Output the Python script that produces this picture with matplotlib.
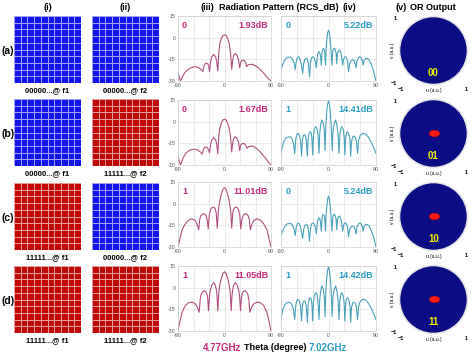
import matplotlib.pyplot as plt
import numpy as np
from matplotlib.colors import ListedColormap
from matplotlib.patches import Ellipse

plt.rcParams['font.family'] = ['Liberation Sans', 'DejaVu Sans']

# ---- data ----
row_labels = ['(a)', '(b)', '(c)', '(d)']
state_f1 = [0, 0, 1, 1]
state_f2 = [0, 1, 0, 1]
code_f1 = ['00000...@ f1', '00000...@ f1', '11111...@ f1', '11111...@ f1']
code_f2 = ['00000...@ f2', '11111...@ f2', '00000...@ f2', '11111...@ f2']
gain_f1 = ['1.93dB', '1.67dB', '11.01dB', '11.05dB']
gain_f2 = ['5.22dB', '14.41dB', '5.24dB', '14.42dB']
or_out = ['00', '01', '10', '11']

# radiation patterns at 4.77GHz (theta deg, RCS dB)
th_a3 = [-90, -87, -85, -80, -74, -66, -58, -52, -47, -42, -40, -38, -35, -32, -30.5, -29, -27, -25, -21, -17,
         -15, -13, -11, -9, -6, -3, 0, 3, 6, 9, 11.5, 14, 16, 18, 21, 24, 27, 29.5, 31, 33, 36, 39, 41, 43,
         45, 49, 54, 60, 66, 72, 78, 84, 90]
db_a3 = [-24, -28, -30, -26, -23, -21, -20, -20.5, -21.5, -23.5, -20, -18.3, -17.5, -18.3, -20, -23.5, -17,
         -13.5, -11.5, -13.5, -17, -23, -10, -4, -0.5, 1.5, 2, 1.5, -0.5, -4, -10, -22, -15, -12, -11, -12,
         -15, -21, -17.5, -16, -15.5, -16, -17.5, -20, -19, -18.5, -18.5, -19.5, -21, -23, -25.5, -28, -30]
th_b3 = [-90, -87, -85, -80, -74, -66, -58, -52, -47, -43, -41, -39, -36, -33, -31, -29, -27, -25, -21, -17,
         -15, -13, -11, -9, -6, -3, 0, 3, 6, 9, 11.5, 14, 16, 18, 21, 24, 27, 29.5, 31, 33, 36, 39, 41, 43.5,
         46, 50, 56, 62, 68, 74, 80, 85, 90]
db_b3 = [-24, -28, -30, -25, -21.5, -19.5, -19, -19.5, -21, -22.5, -19.5, -18, -17.5, -18, -19.5, -21.5, -16,
         -13, -11, -12.5, -16, -22, -10, -4.5, -1, 1.2, 1.7, 1.2, -1, -4.5, -10, -21, -14, -11.5, -10.5,
         -11.5, -14, -20, -16.5, -15.5, -15, -15.5, -16.5, -18.5, -17.5, -17, -17, -18.5, -20.5, -23, -25.5,
         -28, -30]
th_c3 = [-90, -86, -82, -76, -70, -63, -57, -54, -51.5, -50, -48, -46, -43, -40, -37, -34.5, -33, -31.5, -29.5,
         -27, -24, -21, -18, -16, -14, -12, -10, -7, -4, -2, 0, 2, 4, 7, 10, 12, 14, 16, 18, 21, 24, 27, 29.5,
         31.5, 33, 34.5, 37, 40, 43, 46, 48, 50, 51.5, 54, 57, 63, 70, 76, 82, 86, 90]
db_c3 = [-30, -24, -18, -14, -11.5, -10.5, -11.5, -13.5, -16, -18, -11, -8.5, -7.2, -7, -7.5, -9.5, -12.5,
         -17.5, -8, -4, -2.6, -2.3, -3.5, -6.5, -17, -5, 0, 5.5, 9, 10.5, 11, 10.5, 9, 5.5, 0, -5, -17, -6.5,
         -3.5, -2.3, -2.6, -4, -8, -17.5, -12.5, -9.5, -7.5, -7, -7.2, -8.5, -11, -18, -16, -13.5, -11.5,
         -10.5, -11.5, -14, -18, -24, -30]
th_d3 = [-90, -86, -82, -76, -70, -63, -57, -54, -51, -49, -47, -45, -42, -39, -36, -34, -32.5, -31, -29, -27,
         -24, -21, -18, -16, -14.5, -13, -11, -9, -6, -3, 0, 3, 6, 9, 11, 13, 14.5, 16, 18, 21, 24, 27, 29,
         31, 32.5, 34, 36, 39, 42, 45, 47, 49, 51, 54, 57, 63, 70, 76, 82, 86, 90]
db_d3 = [-30, -23, -17, -12.5, -10.5, -10, -11, -12.5, -15, -17, -8, -4.5, -2.8, -2, -2.8, -4.5, -7.5, -16,
         -5, -1, 2, 3.5, 2, -1, -5.5, -16, -3, 2, 6.5, 9.8, 11, 9.8, 6.5, 2, -3, -16, -5.5, -1, 2, 3.5, 2,
         -1, -5, -16, -7.5, -4.5, -2.8, -2, -2.8, -4.5, -8, -17, -15, -12.5, -11, -10, -10.5, -12.5, -17,
         -23, -30]

# radiation patterns at 7.02GHz
th_a4 = [-90, -84, -78, -72, -68, -65, -63, -61, -59, -57, -55, -53, -51, -49, -47, -45, -42, -40, -38, -36,
         -34, -32, -29.5, -27, -25, -23, -21.5, -20, -18, -16.5, -15, -13.7, -12.5, -11, -9.5, -8, -7, -5.6,
         -4.5, -3, -1.5, 0, 1.5, 3, 4.5, 6.5, 8, 9.5, 11.3, 13, 14.5, 15.6, 17, 18.8, 20.6, 22.5, 24.5, 26.9,
         28.5, 30.5, 32, 34, 36, 38, 40, 43, 45.6, 48.5, 50.5, 52, 54, 57, 59.4, 62, 64, 65.6, 67.5, 70.5,
         73.7, 77, 81, 85, 90]
db_a4 = [-22, -16, -13.5, -13.5, -15, -18, -22, -16, -13.8, -13.2, -13.8, -16, -20, -24.7, -18, -15, -14.3,
         -15, -18, -27, -17, -14, -13.2, -14, -16.5, -21, -14, -11, -9.7, -10.5, -13, -19, -11, -8, -7.4,
         -8.5, -11, -19, -7, -1, 3.5, 5.2, 3.5, -1, -7, -19, -10, -7.8, -7.4, -8.5, -11, -18, -11, -9, -8.5,
         -9.5, -12, -19, -15, -13.5, -13.2, -14, -16.5, -23.5, -18, -16, -15.5, -16, -18, -21, -16, -13.8,
         -13.2, -14, -16, -19, -15.5, -14.3, -14.3, -15.5, -18.5, -22.5, -30]
th_b4 = [-90, -86, -81, -76, -72, -69, -66.5, -64, -62, -60, -58, -55.5, -53, -51, -49.5, -48, -46, -44, -42,
         -40, -38.5, -37, -35, -33, -31.5, -30, -28.5, -27, -24.5, -22, -20, -18, -16.5, -15, -12.5, -10, -8,
         -6.5, -5, -3.5, -2, 0, 2, 3.5, 5, 7, 8.5, 11, 13.5, 16, 18, 20, 21.5, 23.5, 25.5, 28, 29.5, 31, 32.5,
         34.5, 36.5, 38.5, 40.5, 42, 43.5, 46, 48.5, 51, 53, 55, 57, 60, 65, 70, 75, 80, 85, 90]
db_b4 = [-22, -15, -11.5, -10.5, -10.5, -12, -15, -22, -12, -9, -8, -9, -13, -24, -13, -10, -9, -9.5, -13,
         -24, -12, -8.5, -7, -7.5, -11, -23, -10, -5.5, -3.5, -4.5, -9, -22, -8, -2.5, 1.2, -1, -6, -20, -2,
         6, 11.5, 14.4, 11.5, 6, -2, -20, -6, -1, 1.2, -2.5, -8, -22, -9, -4.5, -3.5, -5.5, -10, -23, -11,
         -7.5, -7, -8.5, -12, -24, -14, -10.5, -10, -11, -14, -22, -13, -9.5, -8, -8.5, -10.5, -13.5, -17.5,
         -22]
th_c4 = th_a4
db_c4 = [-22, -16.5, -14, -13.5, -15, -18, -22, -16, -14, -13.4, -14, -16, -20, -24, -18, -15, -14.5,
         -15, -18, -26, -17, -14, -13.4, -14, -16.5, -21, -14, -11, -9.8, -10.5, -13, -19, -11, -8, -7.4,
         -8.5, -11, -19, -7, -1, 3.5, 5.2, 3.5, -1, -7, -19, -10, -7.8, -7.4, -8.5, -11, -18, -11, -9, -8.6,
         -9.5, -12, -19, -15, -13.5, -13.3, -14, -16.5, -23, -18, -16, -15.5, -16, -18, -21, -16, -14,
         -13.3, -14, -16, -19, -15.5, -14.3, -14.5, -15.5, -18.5, -22.5, -30]
th_d4 = th_b4
db_d4 = [-21, -14.5, -11, -10, -10.5, -12, -15, -22, -12, -9, -8, -9, -13, -23, -13, -10, -9, -9.5, -13,
         -24, -12, -8.5, -7, -7.5, -11, -23, -10, -5.5, -3.5, -4.5, -9, -22, -8, -2.5, 1.2, -1, -6, -20, -2,
         6, 11.5, 14.4, 11.5, 6, -2, -20, -6, -1, 1.2, -2.5, -8, -22, -9, -4.5, -3.5, -5.5, -10, -23, -11,
         -7.5, -7, -8.5, -12, -24, -14, -10.5, -10, -11, -14, -22, -13, -9.5, -8, -8.5, -10.5, -13.5, -17.5,
         -22]

f1_th = [th_a3, th_b3, th_c3, th_d3]
f1_db = [db_a3, db_b3, db_c3, db_d3]
f2_th = [th_a4, th_b4, th_c4, th_d4]
f2_db = [db_a4, db_b4, db_c4, db_d4]

# ---- style ----
blue = '#1414ee'
red = '#c00808'
mag = '#c8287c'
teal = '#2a9cc4'
line_mag = '#b0507e'
line_teal = '#4aa2b8'
navy = '#0c0c84'

W, H = 474, 356
fig = plt.figure(figsize=(W / 100, H / 100), dpi=100)


def px_axes(x0, y0, x1, y1):
    return fig.add_axes([x0 / W, 1 - y1 / H, (x1 - x0) / W, (y1 - y0) / H])


def ftext(x, y, s, **kw):
    fig.text(x / W, 1 - y / H, s, **kw)


cmap = ListedColormap([blue, red])

# headers
hk = dict(fontsize=6.5, fontweight='bold', ha='center', va='center')
ftext(48, 8, '(i)', **hk)
ftext(125, 8, '(ii)', **hk)
ftext(207, 8, '(iii)', **hk)
ftext(279, 8, 'Radiation Pattern (RCS_dB)', **hk)
ftext(349, 8, '(iv)', **hk)
ftext(401, 8, '(v)', **hk)
ftext(433, 8, 'OR Output', **hk)

grid_top = [16, 99, 183, 266]
rad_top = [16, 100, 182, 266]
or_top = [18, 101, 184, 267]

for r in range(4):
    t = grid_top[r]
    ftext(8, t + 35, row_labels[r], fontsize=7.5, fontweight='bold', ha='center', va='center')
    for x0, st, code in [(14, state_f1[r], code_f1[r]), (92, state_f2[r], code_f2[r])]:
        ax = px_axes(x0, t, x0 + 67, t + 67)
        ax.pcolormesh(np.full((10, 10), st), cmap=cmap, vmin=0, vmax=1,
                      edgecolors=(1, 1, 1, 0.6), linewidth=0.6)
        ax.set_axis_off()
        ftext(x0 + 33.5, t + 75, code, fontsize=5.5, fontweight='bold', ha='center', va='center')

    # radiation pattern panels
    t = rad_top[r]
    for x0, x1, th, db, col, lc, bit, g, left in [
            (178, 271, f1_th[r], f1_db[r], mag, line_mag, state_f1[r], gain_f1[r], True),
            (281, 376, f2_th[r], f2_db[r], teal, line_teal, state_f2[r], gain_f2[r], False)]:
        ax = px_axes(x0, t, x1, t + 65)
        ax.plot(th, db, color=lc, lw=0.8)
        ax.set_xlim(-90, 90)
        ax.set_ylim(-30, 15)
        ax.set_xticks([-90, -60, -30, 0, 30, 60, 90])
        ax.set_xticklabels(['-90', '', '', '0', '', '', '90'])
        ax.set_yticks([15, 0, -15, -30])
        if left:
            ax.set_yticklabels(['15', '0', '-15', '-30'])
        else:
            ax.set_yticklabels([])
        ax.tick_params(length=0, labelsize=3.8, labelcolor='#555555', pad=1.5)
        ax.grid(color='#e2e2e2', lw=0.5)
        for s in ax.spines.values():
            s.set_color('#d0d0d0')
            s.set_linewidth(0.5)
        ax.text(0.07, 0.86, str(bit), transform=ax.transAxes, color=col, fontsize=6.5,
                fontweight='bold', ha='center', va='center')
        ax.text(0.97, 0.86, g, transform=ax.transAxes, color=col, fontsize=6.5,
                fontweight='bold', ha='right', va='center')

    # OR output
    t = or_top[r]
    ax = px_axes(401, t, 466, t + 65)
    ax.add_patch(Ellipse((0, 0), 2.1, 2.1, color='#e6e6e6', clip_on=False))
    ax.add_patch(Ellipse((0, 0), 2, 2, color=navy, clip_on=False))
    if r > 0:
        ax.add_patch(Ellipse((0.03, 0.0), 0.32, 0.2, facecolor='#ff1a1a', edgecolor='#d00000', lw=0.4))
    ax.text(0.0, -0.68, or_out[r], color='#f0f000', fontsize=7, fontweight='bold',
            ha='center', va='center')
    ax.set_xlim(-1, 1)
    ax.set_ylim(-1, 1)
    ax.set_xticks([-1, 1])
    ax.set_yticks([-1, 1])
    ax.tick_params(length=0, labelsize=4, pad=3)
    for lab in ax.get_xticklabels() + ax.get_yticklabels():
        lab.set_fontweight('bold')
    ax.set_xlabel('u (a.u.)', fontsize=3.5, labelpad=-3)
    ax.set_ylabel('v (a.u.)', fontsize=3.5, labelpad=-3)
    for s in ax.spines.values():
        s.set_visible(False)

# bottom labels
ftext(222, 348, '4.77GHz', color=mag, fontsize=7, fontweight='bold', ha='center', va='center')
ftext(275, 348, 'Theta (degree)', fontsize=6.5, fontweight='bold', ha='center', va='center')
ftext(328, 348, '7.02GHz', color=teal, fontsize=7, fontweight='bold', ha='center', va='center')

fig.savefig('out.png', dpi=100)
